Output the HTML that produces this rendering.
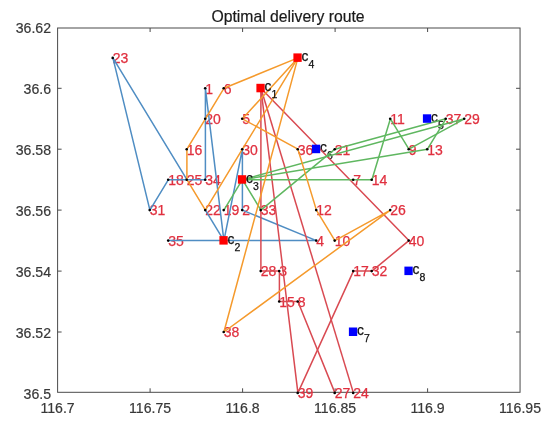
<!DOCTYPE html>
<html><head><meta charset="utf-8"><title>Optimal delivery route</title>
<style>
html,body{margin:0;padding:0;background:#fff;}
svg{display:block;}
text{font-family:"Liberation Sans",Arial,sans-serif;}
.t{font-size:14.1px;fill:#383838;stroke:#383838;stroke-width:0.2px;}
.ti{font-size:15.75px;fill:#1a1a1a;stroke:#1a1a1a;stroke-width:0.2px;}
.n{font-size:14px;fill:#e0303f;stroke:#e0303f;stroke-width:0.25px;}
.c{font-size:13.8px;fill:#111;stroke:#111;stroke-width:0.25px;}
</style></head><body>
<svg width="550" height="424" viewBox="0 0 550 424">
<rect width="550" height="424" fill="#fff"/>
<rect x="57.6" y="28.0" width="462.45" height="364.30" fill="none" stroke="#4a4a4a" stroke-width="1"/>
<text x="57.6" y="413.4" class="t" text-anchor="middle">116.7</text>
<path d="M150.1 392.3 v-4 M150.1 28.0 v4" stroke="#4a4a4a" stroke-width="1"/>
<text x="150.1" y="413.4" class="t" text-anchor="middle">116.75</text>
<path d="M242.6 392.3 v-4 M242.6 28.0 v4" stroke="#4a4a4a" stroke-width="1"/>
<text x="242.6" y="413.4" class="t" text-anchor="middle">116.8</text>
<path d="M335.1 392.3 v-4 M335.1 28.0 v4" stroke="#4a4a4a" stroke-width="1"/>
<text x="335.1" y="413.4" class="t" text-anchor="middle">116.85</text>
<path d="M427.6 392.3 v-4 M427.6 28.0 v4" stroke="#4a4a4a" stroke-width="1"/>
<text x="427.6" y="413.4" class="t" text-anchor="middle">116.9</text>
<text x="520.0" y="413.4" class="t" text-anchor="middle">116.95</text>
<text x="51" y="398.6" class="t" text-anchor="end">36.5</text>
<path d="M57.6 332.0 h4 M520.05 332.0 h-4" stroke="#4a4a4a" stroke-width="1"/>
<text x="51" y="337.7" class="t" text-anchor="end">36.52</text>
<path d="M57.6 271.1 h4 M520.05 271.1 h-4" stroke="#4a4a4a" stroke-width="1"/>
<text x="51" y="276.8" class="t" text-anchor="end">36.54</text>
<path d="M57.6 210.1 h4 M520.05 210.1 h-4" stroke="#4a4a4a" stroke-width="1"/>
<text x="51" y="215.8" class="t" text-anchor="end">36.56</text>
<path d="M57.6 149.2 h4 M520.05 149.2 h-4" stroke="#4a4a4a" stroke-width="1"/>
<text x="51" y="154.9" class="t" text-anchor="end">36.58</text>
<path d="M57.6 88.3 h4 M520.05 88.3 h-4" stroke="#4a4a4a" stroke-width="1"/>
<text x="51" y="94.0" class="t" text-anchor="end">36.6</text>
<text x="51" y="33.1" class="t" text-anchor="end">36.62</text>
<text x="288" y="21.7" class="ti" text-anchor="middle">Optimal delivery route</text>
<text x="205.3" y="93.6" class="n">1</text>
<text x="242.3" y="215.4" class="n">2</text>
<text x="279.3" y="276.4" class="n">3</text>
<text x="316.3" y="245.9" class="n">4</text>
<text x="242.3" y="124.1" class="n">5</text>
<text x="223.8" y="93.6" class="n">6</text>
<text x="353.3" y="185.0" class="n">7</text>
<text x="297.8" y="306.8" class="n">8</text>
<text x="408.8" y="154.5" class="n">9</text>
<text x="334.8" y="245.9" class="n">10</text>
<text x="390.3" y="124.1" class="n">11</text>
<text x="316.3" y="215.4" class="n">12</text>
<text x="427.3" y="154.5" class="n">13</text>
<text x="371.8" y="185.0" class="n">14</text>
<text x="279.3" y="306.8" class="n">15</text>
<text x="186.8" y="154.5" class="n">16</text>
<text x="353.3" y="276.4" class="n">17</text>
<text x="168.3" y="185.0" class="n">18</text>
<text x="223.8" y="215.4" class="n">19</text>
<text x="205.3" y="124.1" class="n">20</text>
<text x="334.8" y="154.5" class="n">21</text>
<text x="205.3" y="215.4" class="n">22</text>
<text x="112.8" y="63.2" class="n">23</text>
<text x="353.3" y="398.2" class="n">24</text>
<text x="186.8" y="185.0" class="n">25</text>
<text x="390.3" y="215.4" class="n">26</text>
<text x="334.8" y="398.2" class="n">27</text>
<text x="260.8" y="276.4" class="n">28</text>
<text x="464.3" y="124.1" class="n">29</text>
<text x="242.3" y="154.5" class="n">30</text>
<text x="149.8" y="215.4" class="n">31</text>
<text x="371.8" y="276.4" class="n">32</text>
<text x="260.8" y="215.4" class="n">33</text>
<text x="205.3" y="185.0" class="n">34</text>
<text x="168.3" y="245.9" class="n">35</text>
<text x="297.8" y="154.5" class="n">36</text>
<text x="445.8" y="124.1" class="n">37</text>
<text x="223.8" y="337.3" class="n">38</text>
<text x="297.8" y="398.2" class="n">39</text>
<text x="408.8" y="245.9" class="n">40</text>
<text x="431.1" y="121.7" class="c">c<tspan dy="7" font-size="10.5">5</tspan></text>
<text x="320.1" y="152.1" class="c">c<tspan dy="7" font-size="10.5">6</tspan></text>
<text x="357.1" y="334.9" class="c">c<tspan dy="7" font-size="10.5">7</tspan></text>
<text x="412.6" y="274.0" class="c">c<tspan dy="7" font-size="10.5">8</tspan></text>
<path d="M223.9 240.6 L205.4 88.3 L205.4 118.8 L205.4 179.7 L186.9 179.7 L112.9 57.9 L149.9 210.1 L168.4 179.7 L186.9 179.7" fill="none" stroke="#4f8dc3" stroke-width="1.5" stroke-linejoin="round"/>
<path d="M223.9 240.6 L205.4 210.1" fill="none" stroke="#4f8dc3" stroke-width="1.5" stroke-linejoin="round"/>
<path d="M223.9 240.6 L242.4 149.2 L242.4 210.1 L316.4 240.6 L223.9 240.6 L168.4 240.6" fill="none" stroke="#4f8dc3" stroke-width="1.5" stroke-linejoin="round"/>
<path d="M260.9 88.3 L260.9 271.1 L279.4 271.1 L279.4 301.5 L297.9 301.5 L334.9 392.9" fill="none" stroke="#d94a52" stroke-width="1.5" stroke-linejoin="round"/>
<path d="M260.9 88.3 L353.4 392.9" fill="none" stroke="#d94a52" stroke-width="1.5" stroke-linejoin="round"/>
<path d="M260.9 88.3 L297.9 392.9 L353.4 271.1 L371.9 271.1 L408.9 240.6 L260.9 88.3" fill="none" stroke="#d94a52" stroke-width="1.5" stroke-linejoin="round"/>
<path d="M242.4 179.7 L353.4 179.7 L371.9 179.7 L390.4 118.8 L408.9 149.2 L464.4 118.8 L242.4 179.7" fill="none" stroke="#5fb760" stroke-width="1.5" stroke-linejoin="round"/>
<path d="M242.4 179.7 L260.9 210.1 L334.9 149.2 L445.9 118.8 L427.4 149.2 L242.4 179.7" fill="none" stroke="#5fb760" stroke-width="1.5" stroke-linejoin="round"/>
<path d="M242.4 179.7 L223.9 210.1" fill="none" stroke="#5fb760" stroke-width="1.5" stroke-linejoin="round"/>
<path d="M297.9 57.9 L223.9 88.3 L205.4 118.8 L186.9 149.2 L186.9 179.7 L205.4 210.1 L242.4 149.2 L297.9 57.9" fill="none" stroke="#f59a2c" stroke-width="1.5" stroke-linejoin="round"/>
<path d="M297.9 57.9 L242.4 118.8 L297.9 149.2 L316.4 210.1 L334.9 240.6 L390.4 210.1 L223.9 332.0 L297.9 57.9" fill="none" stroke="#f59a2c" stroke-width="1.5" stroke-linejoin="round"/>
<text x="264.6" y="91.2" class="c">c<tspan dy="7" font-size="10.5">1</tspan></text>
<text x="227.6" y="243.5" class="c">c<tspan dy="7" font-size="10.5">2</tspan></text>
<text x="246.1" y="182.6" class="c">c<tspan dy="7" font-size="10.5">3</tspan></text>
<text x="301.6" y="60.8" class="c">c<tspan dy="7" font-size="10.5">4</tspan></text>
<circle cx="205.2" cy="88.3" r="1.3" fill="#000"/>
<circle cx="242.2" cy="210.1" r="1.3" fill="#000"/>
<circle cx="279.2" cy="271.1" r="1.3" fill="#000"/>
<circle cx="316.2" cy="240.6" r="1.3" fill="#000"/>
<circle cx="242.2" cy="118.8" r="1.3" fill="#000"/>
<circle cx="223.7" cy="88.3" r="1.3" fill="#000"/>
<circle cx="353.2" cy="179.7" r="1.3" fill="#000"/>
<circle cx="297.7" cy="301.5" r="1.3" fill="#000"/>
<circle cx="408.7" cy="149.2" r="1.3" fill="#000"/>
<circle cx="334.7" cy="240.6" r="1.3" fill="#000"/>
<circle cx="390.2" cy="118.8" r="1.3" fill="#000"/>
<circle cx="316.2" cy="210.1" r="1.3" fill="#000"/>
<circle cx="427.2" cy="149.2" r="1.3" fill="#000"/>
<circle cx="371.7" cy="179.7" r="1.3" fill="#000"/>
<circle cx="279.2" cy="301.5" r="1.3" fill="#000"/>
<circle cx="186.7" cy="149.2" r="1.3" fill="#000"/>
<circle cx="353.2" cy="271.1" r="1.3" fill="#000"/>
<circle cx="168.2" cy="179.7" r="1.3" fill="#000"/>
<circle cx="223.7" cy="210.1" r="1.3" fill="#000"/>
<circle cx="205.2" cy="118.8" r="1.3" fill="#000"/>
<circle cx="334.7" cy="149.2" r="1.3" fill="#000"/>
<circle cx="205.2" cy="210.1" r="1.3" fill="#000"/>
<circle cx="112.7" cy="57.9" r="1.3" fill="#000"/>
<circle cx="353.2" cy="392.9" r="1.3" fill="#000"/>
<circle cx="186.7" cy="179.7" r="1.3" fill="#000"/>
<circle cx="390.2" cy="210.1" r="1.3" fill="#000"/>
<circle cx="334.7" cy="392.9" r="1.3" fill="#000"/>
<circle cx="260.7" cy="271.1" r="1.3" fill="#000"/>
<circle cx="464.2" cy="118.8" r="1.3" fill="#000"/>
<circle cx="242.2" cy="149.2" r="1.3" fill="#000"/>
<circle cx="149.7" cy="210.1" r="1.3" fill="#000"/>
<circle cx="371.7" cy="271.1" r="1.3" fill="#000"/>
<circle cx="260.7" cy="210.1" r="1.3" fill="#000"/>
<circle cx="205.2" cy="179.7" r="1.3" fill="#000"/>
<circle cx="168.2" cy="240.6" r="1.3" fill="#000"/>
<circle cx="297.7" cy="149.2" r="1.3" fill="#000"/>
<circle cx="445.7" cy="118.8" r="1.3" fill="#000"/>
<circle cx="223.7" cy="332.0" r="1.3" fill="#000"/>
<circle cx="297.7" cy="392.9" r="1.3" fill="#000"/>
<circle cx="408.7" cy="240.6" r="1.3" fill="#000"/>
<rect x="256.4" y="83.8" width="8.3" height="8.5" fill="#ff0000"/>
<rect x="219.4" y="236.1" width="8.3" height="8.5" fill="#ff0000"/>
<rect x="237.9" y="175.2" width="8.3" height="8.5" fill="#ff0000"/>
<rect x="293.4" y="53.4" width="8.3" height="8.5" fill="#ff0000"/>
<rect x="311.9" y="144.7" width="8.3" height="8.5" fill="#0000ff"/>
<rect x="422.9" y="114.3" width="8.3" height="8.5" fill="#0000ff"/>
<rect x="348.9" y="327.5" width="8.3" height="8.5" fill="#0000ff"/>
<rect x="404.4" y="266.6" width="8.3" height="8.5" fill="#0000ff"/>
</svg>
</body></html>
